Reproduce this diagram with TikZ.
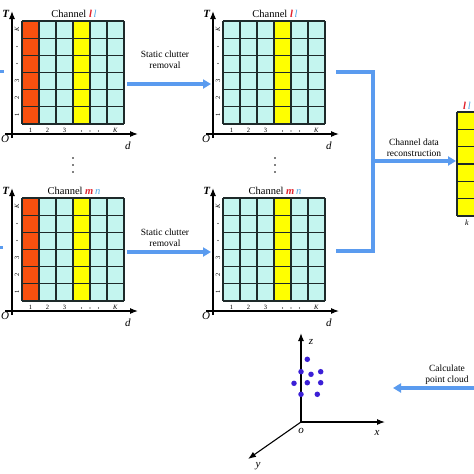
\documentclass[tikz,border=0pt]{standalone}
\usepackage{fontspec}
\setmainfont{Liberation Serif}
\usetikzlibrary{arrows.meta}
\definecolor{cellcyan}{HTML}{C4F5EF}
\definecolor{cellorange}{HTML}{F8500F}
\definecolor{cellyellow}{HTML}{FFFF00}
\definecolor{gridc}{HTML}{1E2A2A}
\definecolor{flowblue}{HTML}{5A9BEF}
\definecolor{lred}{HTML}{E0202A}
\definecolor{lblue}{HTML}{4FA8E8}
\definecolor{ptc}{HTML}{3B1FD6}
\tikzset{
  gridline/.style={draw=gridc,line width=1.1pt},
  axis/.style={draw=black,line width=1.1pt,-{Latex[length=8pt,width=6pt]}},
  axlab/.style={inner sep=0pt,font=\fontsize{11}{12}\selectfont},
  ttl/.style={inner sep=0pt,font=\fontsize{10.5}{12}\selectfont},
  tick/.style={inner sep=0pt,font=\fontsize{6.5}{7}\selectfont},
  flow/.style={draw=flowblue,line width=3.5pt,-{Triangle[length=8pt,width=9pt]}},
  lbl/.style={inner sep=0pt,align=center,font=\fontsize{9.5}{11}\selectfont},
  pt/.style={circle,fill=ptc,inner sep=0pt,minimum size=5.5pt},
  vdot/.style={circle,fill=black,inner sep=0pt,minimum size=1.8pt},
  sdot/.style={circle,fill=black,inner sep=0pt,minimum size=1.3pt}
}
\newcommand\chgrid[5]{%
\begin{scope}[shift={(#1,#2)}]
 \fill[cellcyan] (0,0) rectangle (102,103);
 \fill[cellyellow] (51,0) rectangle (68,103);
 \ifnum#4=1 \fill[cellorange] (0,0) rectangle (17,103);\fi
 \foreach \i in {0,...,6}{\draw[gridline] (17*\i,0) -- (17*\i,103);}
 \foreach \j in {0,...,6}{\draw[gridline] (0,103*\j/6) -- (102,103*\j/6);}
 \draw[axis] (-10,117) -- (-10,-10);
 \draw[axis] (-17,113) -- (116,113);
 \node[axlab] (#3T) at (-16,-7) {\textbf{\textit{T}}};
 \node[axlab] (#3O) at (-17,118) {\textit{O}};
 \node[axlab] (#3d) at (106,125) {\textit{d}};
 \node[ttl] (#3t) at (52,-7) {#5};
 \node[tick] (#3c1) at (8.5,109) {1};
 \node[tick] (#3c2) at (25.5,109) {2};
 \node[tick] (#3c3) at (42.5,109) {3};
 \node[sdot] (#3c4) at (59.5,110) {};
 \node[sdot] (#3c5) at (68,110) {};
 \node[sdot] (#3c6) at (76.5,110) {};
 \node[tick] (#3c7) at (93.5,109) {\textit{K}};
 \node[tick,rotate=90] (#3r1) at (-5,93.5) {1};
 \node[tick,rotate=90] (#3r2) at (-5,76.5) {2};
 \node[tick,rotate=90] (#3r3) at (-5,59.5) {3};
 \node[sdot] (#3r4) at (-5,42.5) {};
 \node[sdot] (#3r5) at (-5,25.5) {};
 \node[tick,rotate=90] (#3r6) at (-5,8.5) {\textit{K}};
\end{scope}}
\begin{document}
\begin{tikzpicture}[x=1pt,y=-1pt]
\useasboundingbox (0,0) rectangle (474,474);
\fill[white] (0,0) rectangle (474,474);
% grids
\chgrid{22}{21}{ga}{1}{Channel \textcolor{lred}{\textbf{\textit{l}}}\,\textcolor{lblue}{\textit{l}}}
\chgrid{22}{198}{gb}{1}{Channel \textcolor{lred}{\textbf{\textit{m}}}\,\textcolor{lblue}{\textit{n}}}
\chgrid{223}{21}{gc}{0}{Channel \textcolor{lred}{\textbf{\textit{l}}}\,\textcolor{lblue}{\textit{l}}}
\chgrid{223}{198}{gd}{0}{Channel \textcolor{lred}{\textbf{\textit{m}}}\,\textcolor{lblue}{\textit{n}}}
% vertical ellipses
\node[vdot] (e1) at (73,158) {};
\node[vdot] (e2) at (73,165) {};
\node[vdot] (e3) at (73,172) {};
\node[vdot] (e4) at (275,158) {};
\node[vdot] (e5) at (275,165) {};
\node[vdot] (e6) at (275,172) {};
% left stubs
\draw[draw=flowblue,line width=3pt] (0,71) -- (4,71);
\draw[draw=flowblue,line width=3pt] (0,247) -- (3,247);
% static clutter arrows
\coordinate (s1a) at (127,84);
\coordinate (s1b) at (211,84);
\coordinate (s2a) at (127,252);
\coordinate (s2b) at (211,252);
\draw[flow] (s1a) -- (s1b);
\draw[flow] (s2a) -- (s2b);
\node[lbl] (t1) at (165,60) {Static clutter\\removal};
\node[lbl] (t2) at (165,238) {Static clutter\\removal};
% bracket
\coordinate (b1) at (336,72);
\coordinate (b2) at (373,72);
\coordinate (b3) at (373,251);
\coordinate (b4) at (336,251);
\draw[draw=flowblue,line width=4.5pt,line join=miter] (b1) -- (b2) -- (b3) -- (b4);
\coordinate (r1) at (372,161);
\coordinate (r2) at (456,161);
\draw[flow] (r1) -- (r2);
\node[lbl] (t3) at (414,148) {Channel data\\reconstruction};
% vector
\fill[cellyellow] (457,112) rectangle (474,216);
\foreach \j in {0,...,6}{\draw[gridline] (457,112+104*\j/6) -- (474,112+104*\j/6);}
\draw[gridline] (457,112) -- (457,216);
\node[ttl] (vl) at (467,106) {\textcolor{lred}{\textbf{\textit{l}}}\,\textcolor{lblue}{\textit{l}}};
\node[tick,font=\fontsize{8}{9}\selectfont] (vk) at (467,223) {\textit{k}};
% point cloud arrow
\coordinate (p1) at (474,388);
\coordinate (p2) at (393,388);
\draw[flow] (p1) -- (p2);
\node[lbl] (t4) at (447,375) {Calculate\\point cloud};
% 3D axes
\coordinate (o) at (301,422);
\coordinate (zt) at (301,333);
\coordinate (xt) at (385,422);
\coordinate (yt) at (248,459);
\draw[axis] (o) -- (zt);
\draw[axis] (o) -- (xt);
\draw[axis] (o) -- (yt);
\node[axlab] (zl) at (311,342) {\textit{z}};
\node[axlab] (ol) at (301,431) {\textit{o}};
\node[axlab] (xl) at (377,433) {\textit{x}};
\node[axlab] (yl) at (258,466) {\textit{y}};
% points
\node[pt] (q1) at (307.3,359.3) {};
\node[pt] (q2) at (301,371.7) {};
\node[pt] (q3) at (311,374.3) {};
\node[pt] (q4) at (320.7,371.7) {};
\node[pt] (q5) at (294,383.3) {};
\node[pt] (q6) at (307.3,382.7) {};
\node[pt] (q7) at (320.7,382.7) {};
\node[pt] (q8) at (301,394.3) {};
\node[pt] (q9) at (317.3,394.3) {};
\end{tikzpicture}
\end{document}
